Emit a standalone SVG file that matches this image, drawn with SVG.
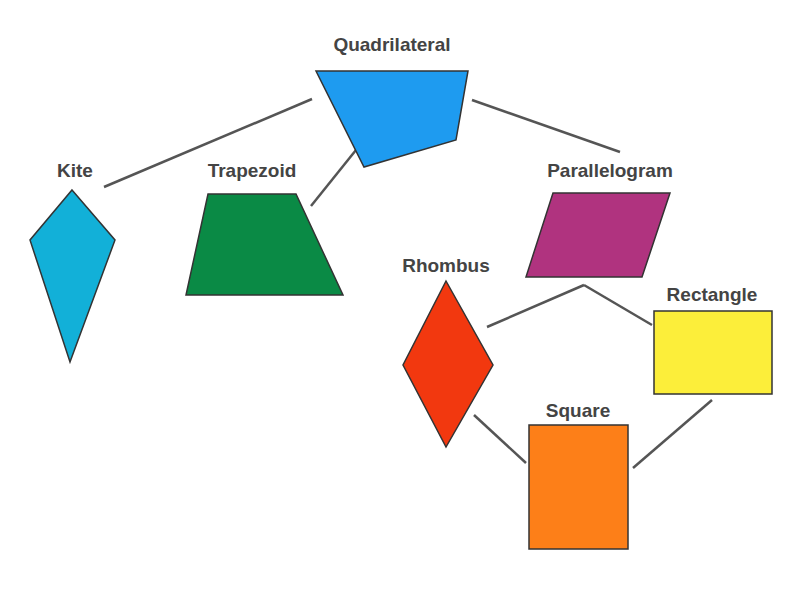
<svg xmlns="http://www.w3.org/2000/svg" width="800" height="600" viewBox="0 0 800 600">
<style>
.s{stroke:#333;stroke-width:1.5;stroke-linejoin:miter}
.t{font-family:"Liberation Sans",Arial,sans-serif;font-weight:bold;font-size:19px;fill:#444;text-anchor:middle}
.c line{stroke:#555;stroke-width:2.5}
</style>
<rect width="800" height="600" fill="#fff"/>
<g class="c" id="connectors">
<line x1="104" y1="187" x2="312" y2="99"/>
<line x1="311" y1="206" x2="360" y2="145"/>
<line x1="472" y1="100" x2="620" y2="152"/>
<line x1="487" y1="327" x2="584" y2="285"/>
<line x1="584" y1="285" x2="652" y2="325"/>
<line x1="474" y1="415" x2="526" y2="463"/>
<line x1="712" y1="400" x2="633" y2="468"/>
</g>
<g id="quadrilateral"><polygon class="s" fill="#1e9bf0" points="316,71 468,71 456,140 364,167"/><text class="t" x="392" y="51">Quadrilateral</text></g>
<g id="kite"><polygon class="s" fill="#12b0d8" points="72,190 115,240 70,362 30,240"/><text class="t" x="75" y="177">Kite</text></g>
<g id="trapezoid"><polygon class="s" fill="#0a8a45" points="208,194 296,194 343,295 186,295"/><text class="t" x="252" y="177">Trapezoid</text></g>
<g id="parallelogram"><polygon class="s" fill="#b0337f" points="553,193 670,193 642,277 526,277"/><text class="t" x="610" y="177">Parallelogram</text></g>
<g id="rhombus"><polygon class="s" fill="#f2380f" points="446,281 493,365 446,447 403,365"/><text class="t" x="446" y="272">Rhombus</text></g>
<g id="rectangle"><rect class="s" fill="#fcee3a" x="654" y="311" width="118" height="83"/><text class="t" x="712" y="301">Rectangle</text></g>
<g id="square"><rect class="s" fill="#fd7f18" x="529" y="425" width="99" height="124"/><text class="t" x="578" y="417">Square</text></g>
</svg>
